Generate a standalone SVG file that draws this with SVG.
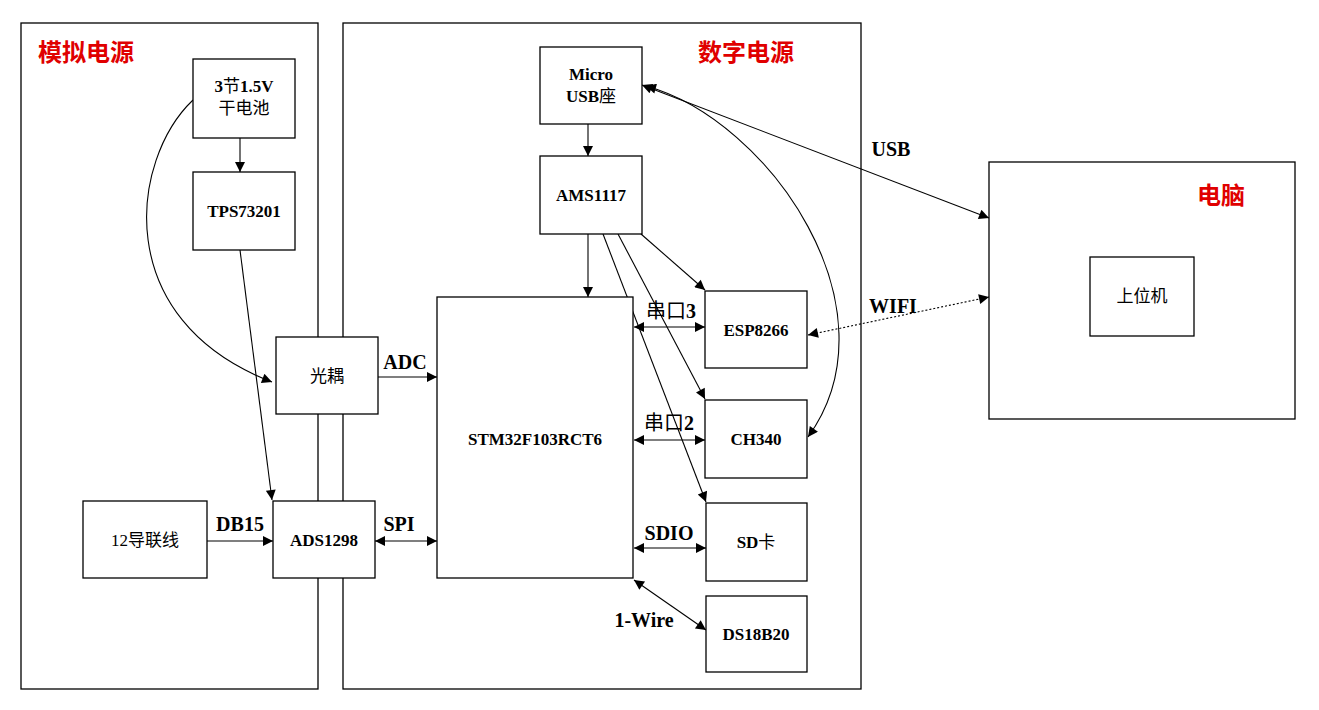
<svg xmlns="http://www.w3.org/2000/svg" width="1319" height="710" viewBox="0 0 1319 710">
<style>
rect{fill:#fff;stroke:#000;stroke-width:1.3}
.t{font-family:"Liberation Serif","Noto Sans CJK SC",serif;font-size:17px;text-anchor:middle}
.l text{font-size:20px}
.b{font-weight:bold}
.r{font-family:"Noto Sans CJK SC",sans-serif;font-size:24px;font-weight:bold;fill:#e00000}
.c path,.c line{fill:none;stroke:#000;stroke-width:1.1}
</style>
<defs>
<marker id="a" viewBox="0 0 10 10" refX="10" refY="5" markerWidth="12" markerHeight="10" markerUnits="userSpaceOnUse" orient="auto-start-reverse"><path d="M0,0L10,5L0,10z"/></marker>
</defs>
<g id="panels">
<rect x="21" y="23" width="297" height="666"/>
<rect x="343" y="23" width="518" height="666"/>
<rect x="989" y="162" width="306" height="257"/>
<text class="r" x="38" y="61">模拟电源</text>
<text class="r" x="698" y="61">数字电源</text>
<text class="r" x="1197" y="204">电脑</text>
</g>
<g class="c">
<line x1="588" y1="124" x2="588" y2="156" marker-end="url(#a)"/>
<line x1="240" y1="138" x2="240" y2="172" marker-end="url(#a)"/>
<path d="M193,100C130,160 110,320 272,382" marker-end="url(#a)"/>
<line x1="240" y1="250" x2="272" y2="500" marker-end="url(#a)"/>
<line x1="378" y1="377" x2="437" y2="377" marker-end="url(#a)"/>
<line x1="207" y1="541" x2="273" y2="541" marker-end="url(#a)"/>
<line x1="375" y1="541" x2="437" y2="541" marker-start="url(#a)" marker-end="url(#a)"/>
<line x1="588" y1="234" x2="588" y2="297" marker-end="url(#a)"/>
<line x1="641" y1="234" x2="705" y2="290" marker-end="url(#a)"/>
<line x1="618" y1="234" x2="705" y2="399" marker-end="url(#a)"/>
<line x1="603" y1="234" x2="706" y2="502" marker-end="url(#a)"/>
<line x1="634" y1="327" x2="705" y2="327" marker-start="url(#a)" marker-end="url(#a)"/>
<line x1="634" y1="440" x2="705" y2="440" marker-start="url(#a)" marker-end="url(#a)"/>
<line x1="634" y1="548" x2="706" y2="548" marker-start="url(#a)" marker-end="url(#a)"/>
<line x1="634" y1="580" x2="706" y2="630" marker-start="url(#a)" marker-end="url(#a)"/>
<line x1="642" y1="85" x2="989" y2="218" marker-start="url(#a)" marker-end="url(#a)"/>
<path d="M646,86C770,120 900,310 808,437" marker-start="url(#a)" marker-end="url(#a)"/>
<line x1="808" y1="335" x2="989" y2="297" stroke-dasharray="2,2" marker-start="url(#a)" marker-end="url(#a)"/>
</g>
<g class="t b l">
<text x="891" y="156">USB</text>
<text x="893" y="313">WIFI</text>
<text x="405" y="369">ADC</text>
<text x="240" y="531">DB15</text>
<text x="399" y="531">SPI</text>
<text x="671" y="318" style="font-weight:normal">串口<tspan font-weight="bold">3</tspan></text>
<text x="669" y="430" style="font-weight:normal">串口<tspan font-weight="bold">2</tspan></text>
<text x="669" y="540">SDIO</text>
<text x="644" y="627">1-Wire</text>
</g>
<g id="bat"><rect x="193" y="59" width="102" height="79"/><text class="t" x="244" y="92"><tspan class="b">3</tspan>节<tspan class="b">1.5V</tspan></text><text class="t" x="244" y="114">干电池</text></g>
<g id="tps"><rect x="193" y="172" width="102" height="78"/><text class="t b" x="244" y="217">TPS73201</text></g>
<g id="opto"><rect x="276" y="337" width="102" height="77"/><text class="t" x="327" y="382">光耦</text></g>
<g id="ads"><rect x="273" y="501" width="102" height="77"/><text class="t b" x="324" y="546">ADS1298</text></g>
<g id="lead"><rect x="83" y="501" width="124" height="77"/><text class="t" x="145" y="546">12导联线</text></g>
<g id="usb"><rect x="540" y="47" width="102" height="77"/><text class="t b" x="591" y="80">Micro</text><text class="t" x="591" y="102"><tspan class="b">USB</tspan>座</text></g>
<g id="ams"><rect x="540" y="156" width="102" height="78"/><text class="t b" x="591" y="201">AMS1117</text></g>
<g id="stm"><rect x="437" y="297" width="196" height="281"/><text class="t b" x="535" y="445">STM32F103RCT6</text></g>
<g id="esp"><rect x="705" y="291" width="102" height="77"/><text class="t b" x="756" y="336">ESP8266</text></g>
<g id="ch"><rect x="705" y="400" width="102" height="78"/><text class="t b" x="756" y="445">CH340</text></g>
<g id="sd"><rect x="706" y="503" width="101" height="78"/><text class="t" x="756" y="548"><tspan class="b">SD</tspan>卡</text></g>
<g id="ds"><rect x="706" y="596" width="101" height="76"/><text class="t b" x="756" y="640">DS18B20</text></g>
<g id="pc"><rect x="1090" y="257" width="104" height="79"/><text class="t" x="1142" y="302">上位机</text></g>
</svg>
